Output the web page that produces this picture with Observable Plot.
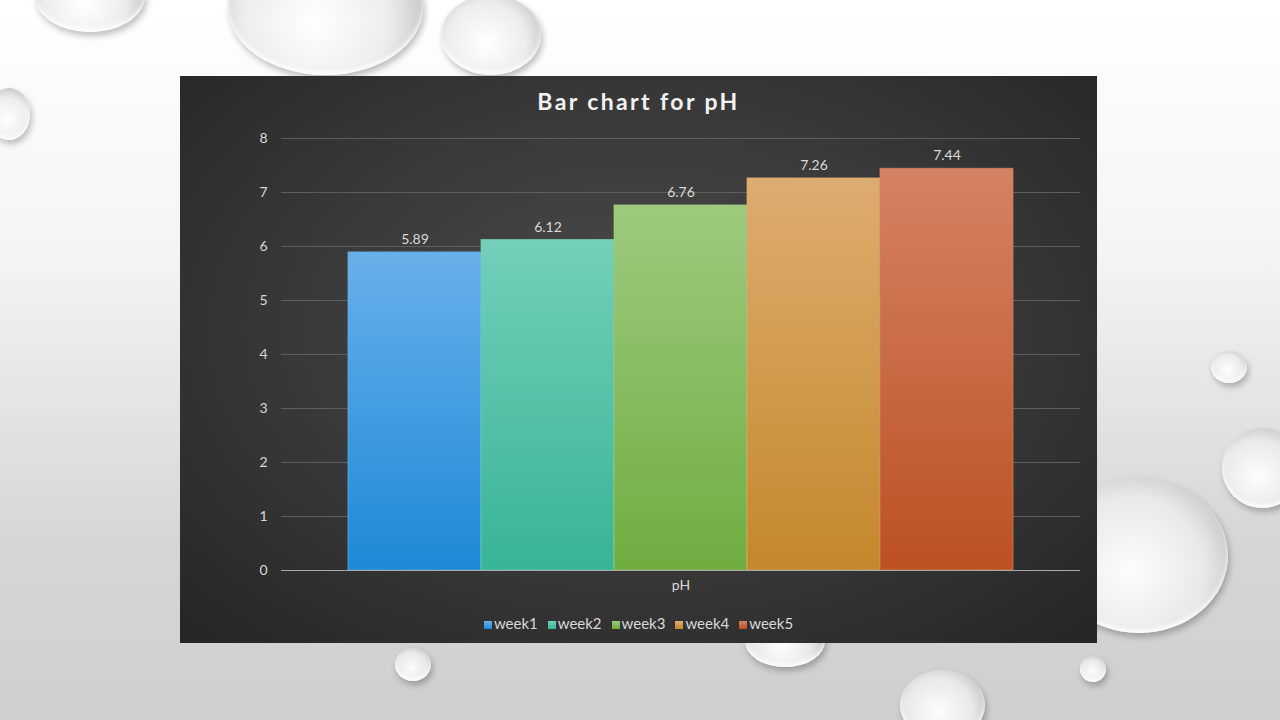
<!DOCTYPE html>
<html>
<head>
<meta charset="utf-8">
<script src="https://cdn.jsdelivr.net/npm/d3@7"></script>
<script src="https://cdn.jsdelivr.net/npm/@observablehq/plot@0.6"></script>
<style>
  html, body { margin: 0; padding: 0; }
  body { width: 1280px; height: 720px; overflow: hidden; position: relative;
    background: linear-gradient(180deg, #ffffff 0%, #f4f4f4 35%, #d6d6d6 75%, #cfcfcf 100%);
    font-family: "Lato", "DejaVu Sans", sans-serif; }
  .drop { position: absolute; border-radius: 50%;
    background: radial-gradient(circle at 45% 60%, rgba(255,255,255,0.95) 0%, rgba(235,235,235,0.9) 55%, rgba(190,190,190,0.9) 85%, rgba(150,150,150,0.9) 100%);
    box-shadow: 2px 4px 6px rgba(0,0,0,0.25), inset 0 -3px 4px rgba(255,255,255,0.9); }
  #panel { position: absolute; left: 180px; top: 76px; width: 917px; height: 567px;
    background: radial-gradient(ellipse 70% 75% at 50% 45%, #4b4b4b 0%, #3a3a3a 50%, #262626 100%); }
  #title { position: absolute; left: 0; width: 917px; top: 11px; text-align: center;
    color: #f2f2f2; font-size: 23px; font-weight: bold; letter-spacing: 2.4px; }
  #legend { position: absolute; left: 0; width: 917px; top: 538px; text-align: center;
    color: #d9d9d9; font-size: 15px; }
  #legend span.item { display: inline-block; margin: 0 5px; }
  #legend span.sw { display: inline-block; width: 8px; height: 8px; margin-right: 2px; vertical-align: 0px; }
  #chart { position: absolute; left: 0; top: 0; }
</style>
</head>
<body>
<div class="drop" style="left:35px;top:-40px;width:110px;height:72px;"></div>
<div class="drop" style="left:228px;top:-60px;width:195px;height:135px;"></div>
<div class="drop" style="left:441px;top:-5px;width:100px;height:80px;"></div>
<div class="drop" style="left:-12px;top:88px;width:42px;height:52px;"></div>
<div class="drop" style="left:1211px;top:351px;width:36px;height:32px;"></div>
<div class="drop" style="left:1222px;top:428px;width:80px;height:80px;"></div>
<div class="drop" style="left:1050px;top:478px;width:178px;height:155px;"></div>
<div class="drop" style="left:395px;top:648px;width:36px;height:33px;"></div>
<div class="drop" style="left:745px;top:615px;width:80px;height:52px;"></div>
<div class="drop" style="left:1080px;top:656px;width:26px;height:26px;"></div>
<div class="drop" style="left:900px;top:670px;width:85px;height:70px;"></div>

<svg width="0" height="0" style="position:absolute">
  <defs id="grads"></defs>
</svg>

<div id="panel">
  <div id="chart"></div>
  <div id="title">Bar chart for pH</div>
  <div id="legend"></div>
</div>

<script>
const weeks = ["week1", "week2", "week3", "week4", "week5"];
const phValues = [5.89, 6.12, 6.76, 7.26, 7.44];
const yTicks = [0, 1, 2, 3, 4, 5, 6, 7, 8];
const categoryLabel = "pH";
const topColors = ["#69b0ea", "#74cfb9", "#9dca7e", "#ddac70", "#d48265"];
const bottomColors = ["#1d89d8", "#37b497", "#6fad40", "#c4872a", "#bc5121"];

// gradients
const defs = d3.select("#grads");
weeks.forEach((w, i) => {
  const g = defs.append("linearGradient").attr("id", "g" + i)
    .attr("x1", 0).attr("y1", 0).attr("x2", 0).attr("y2", 1);
  g.append("stop").attr("offset", "0%").attr("stop-color", topColors[i]);
  g.append("stop").attr("offset", "100%").attr("stop-color", bottomColors[i]);
});

const data = weeks.map((w, i) => ({week: w, value: phValues[i], fill: "url(#g" + i + ")", stroke: topColors[i]}));

const W = 917, H = 567;
const chart = Plot.plot({
  width: W,
  height: H,
  marginLeft: 101,
  marginRight: 17,
  marginTop: 62,
  marginBottom: 73,
  style: {background: "transparent", color: "#d9d9d9", fontFamily: "Lato, 'DejaVu Sans', sans-serif", fontSize: "14px"},
  x: {type: "band", domain: weeks, range: [167, 833], padding: 0, axis: null},
  y: {domain: [0, 8], ticks: yTicks, label: null, tickSize: 0, tickPadding: 14},
  color: {type: "identity"},
  marks: [
    Plot.ruleY(yTicks.filter(t => t > 0), {stroke: "#5e5e5e", strokeWidth: 1}),
    Plot.barY(data, {x: "week", y: "value", fill: "fill", stroke: "stroke", strokeWidth: 0.8, strokeOpacity: 0.9}),
    Plot.ruleY([0], {stroke: "#a8a8a8", strokeWidth: 1}),
    Plot.text(data, {x: "week", y: "value", text: d => d.value.toFixed(2), dy: -13, fill: "#d9d9d9", fontSize: 14}),
    Plot.text([categoryLabel], {x: () => "week3", frameAnchor: "bottom", text: d => d, dy: 19, fill: "#d9d9d9", fontSize: 14}),
    Plot.axisY({ticks: yTicks, tickSize: 0, tickPadding: 14, fill: "#d9d9d9", fontSize: 14, label: null})
  ]
});
document.getElementById("chart").appendChild(chart);

// legend
const legend = d3.select("#legend");
weeks.forEach((w, i) => {
  const it = legend.append("span").attr("class", "item");
  it.append("span").attr("class", "sw").style("background", `linear-gradient(${topColors[i]}, ${bottomColors[i]})`);
  it.append("span").text(w);
});
</script>
</body>
</html>
